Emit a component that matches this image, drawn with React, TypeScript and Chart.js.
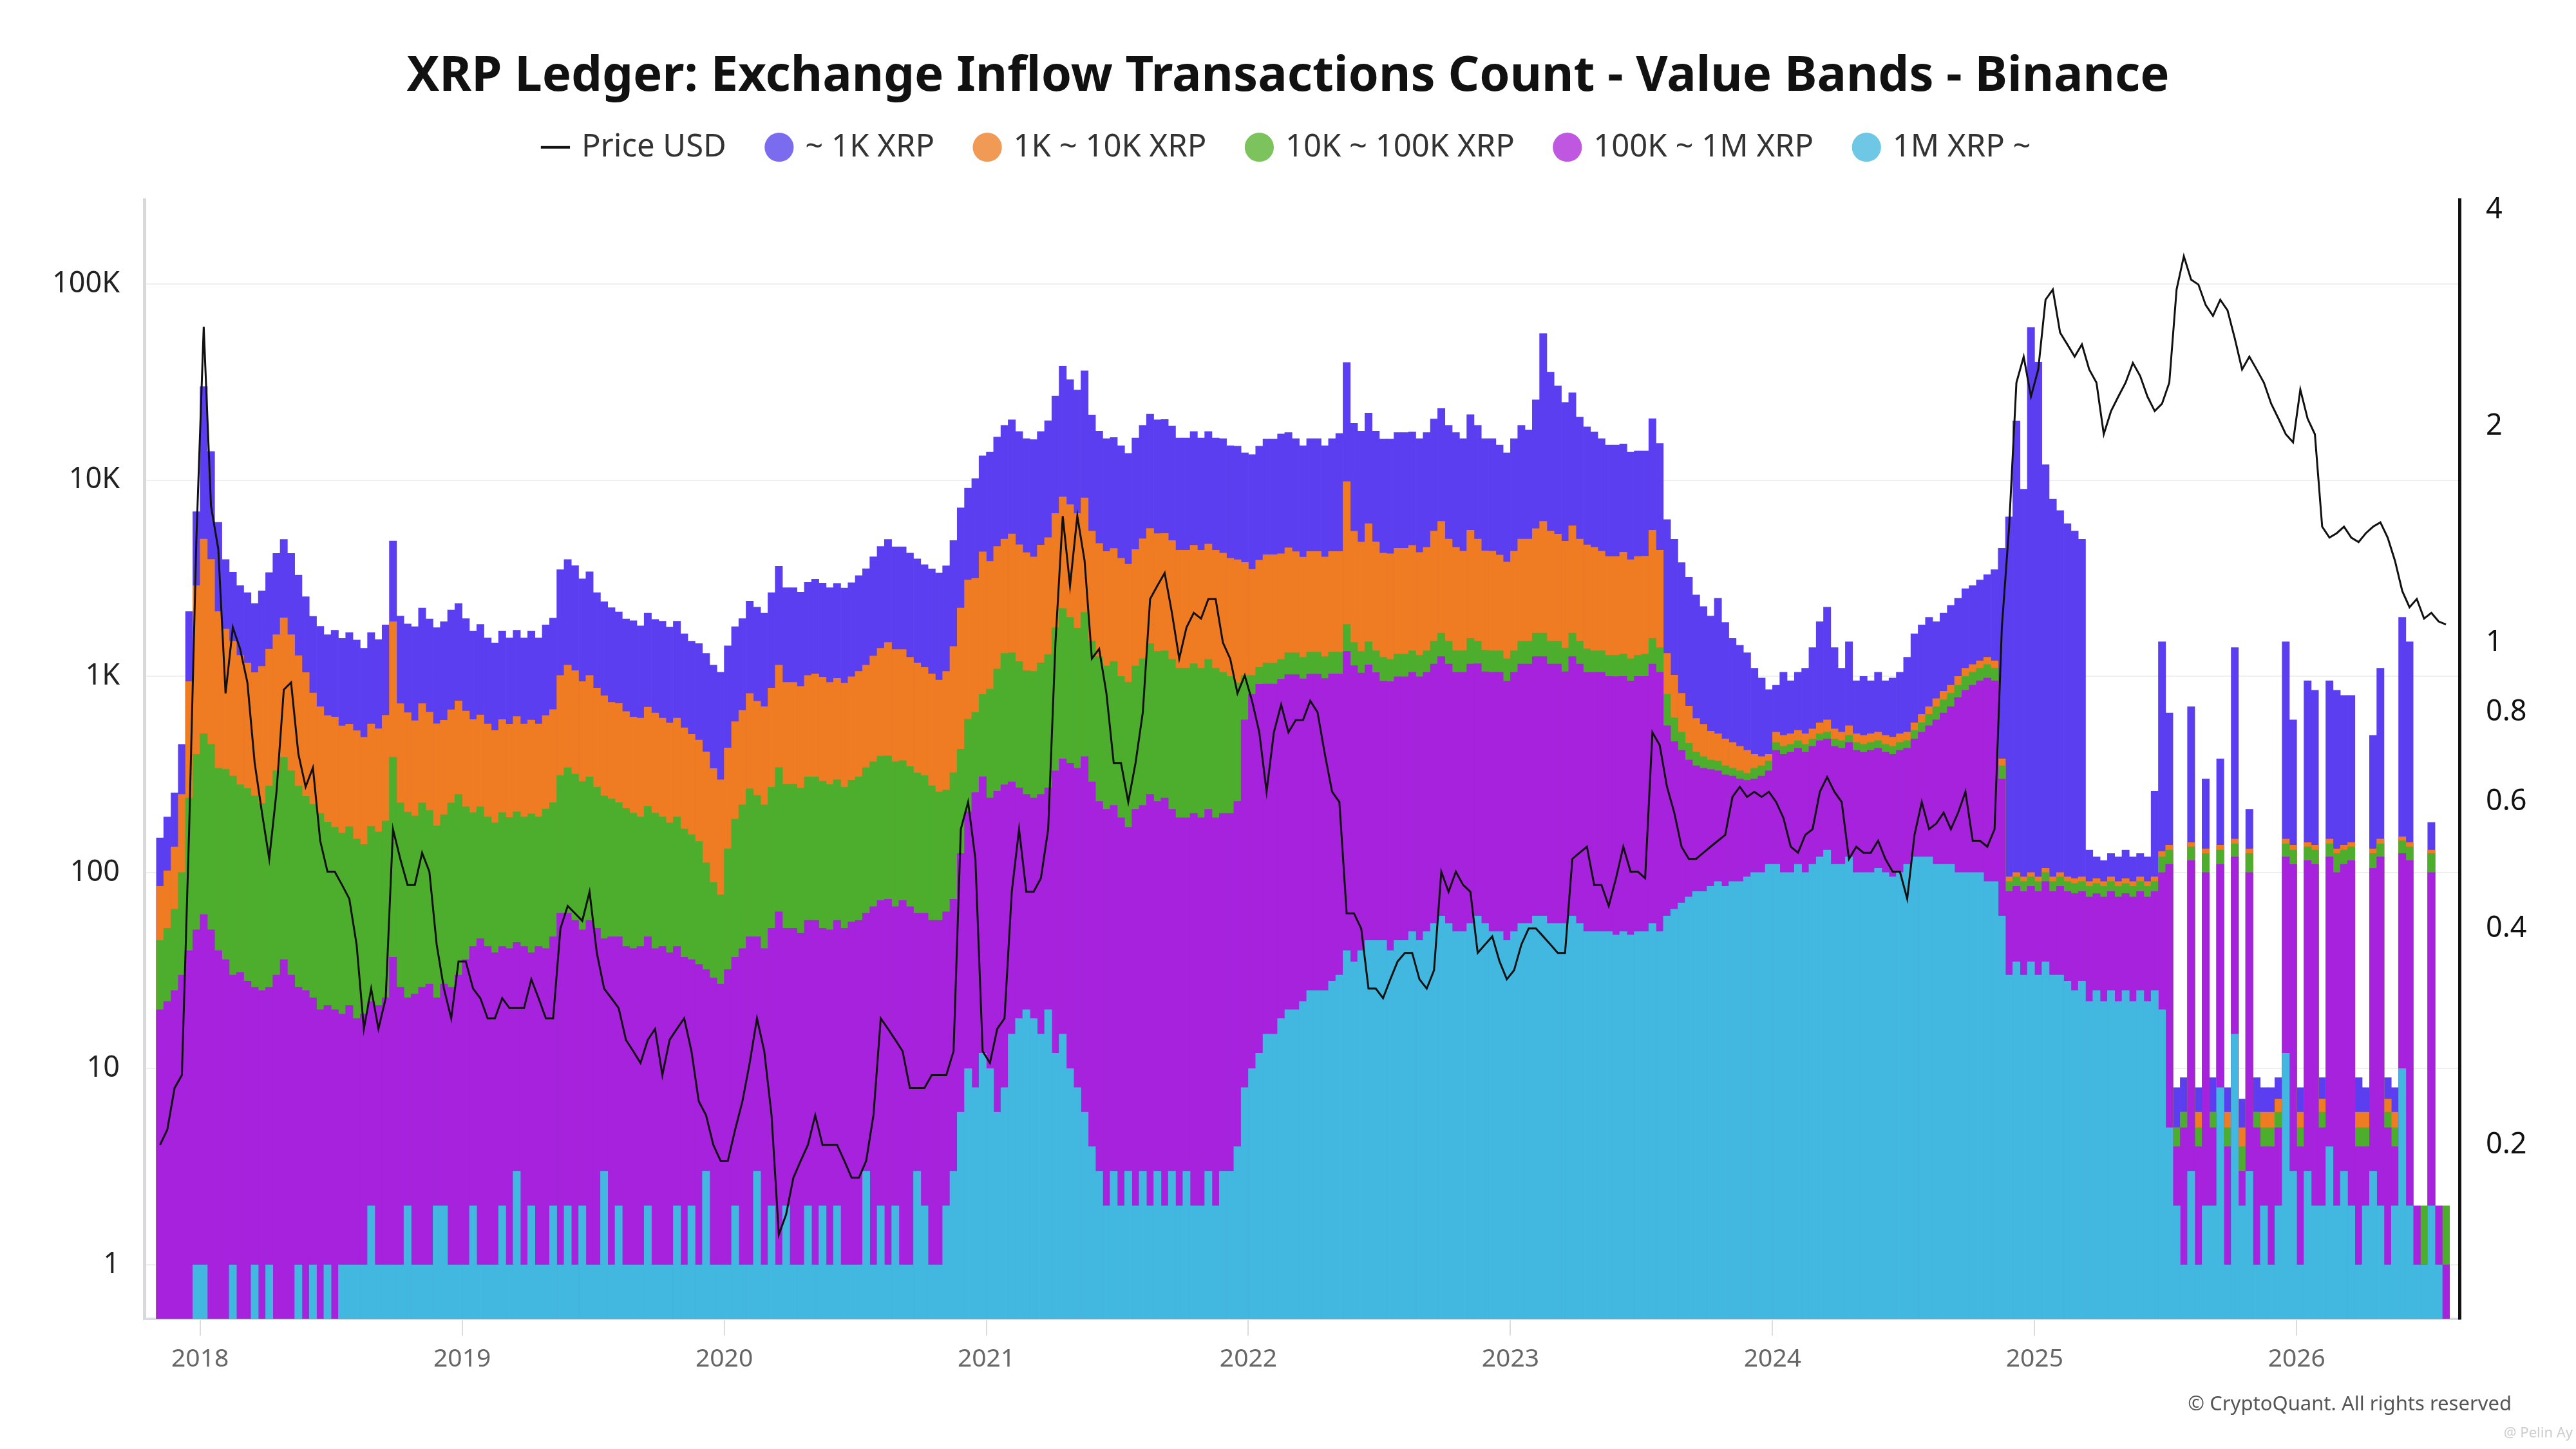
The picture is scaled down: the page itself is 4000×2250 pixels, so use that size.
import React, { useEffect, useRef } from 'react';
import { Chart, registerables } from 'chart.js';

Chart.register(...registerables);
Chart.defaults.font.family = 'Noto Sans';

const TITLE = 'XRP Ledger: Exchange Inflow Transactions Count - Value Bands - Binance';
const COPYRIGHT = '© CryptoQuant. All rights reserved';
const AUTHOR_MARK = '@ Pelin Ay';

// Sample calendar: three samples per month (1st, 11th, 21st), Nov 2017 - Jul 2026
const START_YEAR = 2017;
const START_MONTH = 11;
const MONTH_COUNT = 105;
const SAMPLE_DAYS = [1, 11, 21];

const SAMPLE_DATES: string[] = [];
for (let m = 0; m < MONTH_COUNT; m++) {
  const y = START_YEAR + Math.floor((START_MONTH - 1 + m) / 12);
  const mo = ((START_MONTH - 1 + m) % 12) + 1;
  for (const d of SAMPLE_DAYS) {
    SAMPLE_DATES.push(`${y}-${String(mo).padStart(2, '0')}-${String(d).padStart(2, '0')}`);
  }
}

// Transaction counts per value band (each band drawn from the axis floor, overlapping)
const BAND_1M_PLUS = [
  0,0,0, 0,0,1,
  1,0,0, 0,1,0, 0,1,0, 1,0,0, 0,1,0, 1,0,1, 0,1,1, 1,1,2, 1,1,1, 1,2,1, 1,1,2, 2,1,1,
  1,2,1, 1,1,2, 1,3,1, 2,1,1, 2,1,2, 1,2,1, 1,3,1, 2,1,1, 1,2,1, 1,1,2, 1,2,1, 3,1,1,
  1,2,1, 1,3,1, 2,1,2, 1,1,2, 1,2,1, 2,1,1, 1,3,1, 2,1,2, 1,1,3, 2,1,1, 2,3,6, 10,8,12,
  10,6,8, 15,18,20, 18,15,20, 12,15,10, 8,6,4, 3,2,3, 2,3,2, 3,2,3, 2,3,2, 3,2,2, 3,2,3, 3,4,8,
  10,12,15, 15,18,20, 20,22,25, 25,25,28, 30,40,35, 40,45,45, 45,40,45, 45,50,45, 50,55,60, 55,50,50, 55,60,55, 50,50,45,
  50,55,55, 60,60,55, 55,55,60, 55,50,50, 50,50,48, 50,48,50, 50,55,50, 60,65,70, 75,80,80, 85,90,85, 90,90,95, 100,100,110,
  110,100,100, 110,100,110, 120,130,110, 110,120,100, 100,100,105, 100,95,100, 110,120,120, 120,110,110, 110,100,100, 100,100,90, 90,60,30, 35,30,35,
  30,35,30, 30,28,25, 28,22,25, 22,25,22, 25,22,25, 22,25,20, 5,2,1, 3,1,2, 2,8,1, 15,2,3, 1,2,1, 2,12,3,
  1,3,2, 2,4,2, 3,2,1, 2,3,2, 1,2,10, 2,1,1, 2,1,0,
];

const BAND_100K_1M = [
  20,22,25, 30,40,51,
  61,51,40, 36,30,31, 28,26,25, 26,30,36, 30,26,25, 23,20,21, 20,19,21, 18,19,22, 21,23,37, 26,23,24, 26,27,23, 27,26,30,
  36,42,46, 42,39,42, 41,44,42, 39,42,41, 47,62,62, 57,51,57, 52,46,47, 47,42,41, 42,47,41, 42,39,42, 37,36,34, 32,29,27,
  32,37,41, 47,47,41, 52,63,52, 52,49,57, 57,52,51, 57,52,56, 57,62,67, 72,73,67, 72,67,62, 62,57,57, 63,73,125, 204,256,308,
  240,260,280, 290,270,250, 240,250,270, 330,380,360, 340,390,290, 230,210,220, 190,170,210, 220,250,230, 240,210,190, 190,200,190, 210,190,200, 200,230,600,
  810,912,915, 915,968,1020, 1020,972,1025, 1025,975,1030, 1030,1340,1135, 1040,1145,1045, 945,940,995, 995,1050,995, 1050,1155,1260, 1155,1050,1050, 1155,1160,1055, 1050,1050,945,
  1050,1155,1155, 1260,1260,1155, 1155,1055,1260, 1155,1050,1050, 1050,1000,998, 1000,948,1000, 1000,1155,1050, 560,465,420, 375,350,340, 335,330,315, 310,300,295, 300,310,330,
  420,400,410, 430,410,440, 470,480,440, 430,460,420, 410,420,430, 410,400,420, 430,480,520, 560,600,650, 700,780,850, 900,950,980, 950,300,80, 85,80,85,
  80,90,80, 85,80,78, 80,75,78, 75,80,75, 78,75,80, 75,80,100, 110,4,5, 115,4,100, 5,110,4, 120,3,100, 5,4,4, 5,120,110,
  4,115,110, 5,120,100, 110,115,4, 4,105,120, 5,4,125, 115,2,1, 100,2,1,
];

const BAND_10K_100K = [
  45,52,65, 100,240,400,
  510,450,340, 336,310,280, 268,246,225, 276,330,386, 330,276,245, 223,200,181, 170,159,171, 148,139,172, 161,183,387, 226,203,194, 226,207,173, 197,226,250,
  216,202,216, 192,179,202, 191,204,192, 199,192,211, 227,312,342, 317,291,307, 272,246,237, 227,212,201, 192,217,201, 192,179,192, 167,156,144, 112,89,77,
  132,187,221, 267,247,221, 272,343,282, 282,269,307, 307,292,281, 297,272,296, 307,342,367, 392,393,367, 372,347,322, 312,277,257, 263,323,425, 604,656,808,
  860,1090,1310, 1320,1190,1070, 1060,1170,1290, 1770,2220,2000, 1760,2120,1510, 1260,1130,1190, 1000,934,1130, 1230,1470,1340, 1350,1220,1100, 1100,1160,1100, 1220,1100,1050, 1000,925,1010,
  1010,1110,1170, 1170,1220,1320, 1320,1250,1330, 1330,1260,1330, 1330,1840,1490, 1340,1500,1350, 1250,1220,1300, 1300,1350,1280, 1350,1510,1660, 1510,1350,1350, 1560,1510,1360, 1350,1350,1230,
  1350,1510,1510, 1660,1660,1510, 1510,1390,1660, 1510,1380,1350, 1350,1280,1280, 1300,1230,1280, 1300,1560,1400, 810,615,520, 455,410,390, 375,370,350, 340,330,320, 340,350,370,
  460,440,450, 470,450,480, 510,520,480, 470,500,460, 450,460,470, 450,440,460, 470,530,580, 640,700,760, 820,900,1000, 1050,1100,1150, 1100,350,90, 95,90,95,
  90,100,90, 95,90,88, 90,85,88, 85,90,85, 88,85,90, 85,90,120, 130,5,6, 135,5,125, 6,130,5, 140,4,125, 6,5,5, 6,140,130,
  5,135,130, 6,140,125, 130,135,5, 5,125,140, 6,5,145, 135,2,2, 125,2,2,
];

const BAND_1K_10K = [
  85,102,135, 250,940,2900,
  5010,3950,2140, 1740,1510,1280, 1170,1046,1125, 1376,1630,1986, 1630,1276,1045, 823,700,631, 620,559,571, 528,489,572, 541,633,1900, 726,653,594, 726,657,573, 597,676,750,
  666,602,636, 572,529,602, 571,624,572, 599,572,631, 677,1010,1140, 1070,941,1010, 872,796,737, 727,662,621, 612,697,651, 612,579,612, 547,506,474, 412,339,297,
  432,587,671, 817,747,701, 872,1140,932, 932,889,1010, 1030,992,931, 977,922,996, 1060,1140,1270, 1390,1490,1370, 1370,1250,1170, 1110,1030,957, 1060,1420,2230, 3100,3160,4310,
  3860,4590,5010, 5320,4690,4270, 4060,4670,5090, 6770,8220,7500, 6760,8120,5510, 4760,4330,4490, 4000,3730,4430, 5030,5670,5340, 5350,4920,4400, 4400,4660,4400, 4720,4400,4250, 4000,3930,3810,
  3510,3910,4170, 4170,4220,4520, 4320,4050,4330, 4330,4060,4330, 4330,9840,5490, 4840,6000,4850, 4250,4220,4500, 4500,4650,4280, 4550,5510,6160, 5010,4550,4350, 5560,5010,4360, 4350,4150,3830,
  4350,5010,5010, 5660,6160,5510, 5310,4890,5860, 5010,4680,4550, 4350,4080,4080, 4300,3930,4080, 4100,5560,4400, 1310,1015,820, 705,610,570, 525,510,480, 460,440,420, 400,390,400,
  520,500,510, 530,510,540, 580,600,540, 520,560,510, 500,510,520, 500,490,510, 520,580,640, 700,770,840, 900,1000,1100, 1150,1200,1250, 1200,380,95, 100,95,100,
  95,105,95, 100,95,93, 95,90,93, 90,95,90, 93,90,95, 90,95,128, 138,5,6, 142,6,132, 6,138,6, 148,5,132, 6,6,6, 7,148,138,
  6,142,138, 7,148,132, 138,142,6, 6,132,148, 7,6,152, 142,1,2, 130,1,2,
];

const BAND_UNDER_1K = [
  150,192,255, 450,2140,6900,
  30000,14000,6100, 3940,3400,2900, 2670,2350,2725, 3380,4230,4990, 4230,3280,2545, 2020,1800,1630, 1720,1560,1670, 1530,1390,1670, 1540,1830,4900, 2030,1850,1790, 2230,1960,1770, 1900,2180,2350,
  1970,1700,1840, 1570,1480,1700, 1570,1720,1570, 1700,1570,1830, 1980,3500,3940, 3670,3140,3410, 2670,2400,2240, 2130,1960,1920, 1810,2100,1950, 1910,1780,1910, 1650,1510,1470, 1310,1140,1050,
  1430,1790,1970, 2420,2250,2100, 2670,3640,2830, 2830,2690,3010, 3130,2990,2830, 2980,2820,3000, 3260,3540,4070, 4590,4990,4570, 4570,4250,3970, 3710,3530,3360, 3660,4920,7230, 9100,10200,13300,
  13900,16600,19000, 20300,17700,16300, 16100,17700,20100, 26800,38200,32500, 28800,36100,21500, 17800,16300,16500, 15000,13700,16400, 19000,21700,20300, 20400,18900,16400, 16400,17700,16400, 17700,16400,16300, 15000,14900,13800,
  13500,14900,16200, 16200,17200,17500, 16300,15000,16300, 16300,15000,16300, 17300,39800,19500, 17800,22000,17800, 16200,16200,17500, 17500,17600,16300, 17500,20500,23200, 19000,17500,16300, 21600,19000,16300, 16300,15100,13800,
  16300,19000,18000, 25700,56000,35500, 30300,24900,27900, 21000,18700,17600, 16300,15100,15100, 15300,13900,14100, 14100,20600,15400, 6300,5000,3800, 3200,2600,2270, 2030,2500,1880, 1560,1440,1320, 1100,980,855,
  900,1050,950, 1050,1100,1400, 1900,2250,1400, 1100,1500,950, 1000,950,1050, 950,980,1050, 1250,1650,1830, 2000,1900,2100, 2300,2500,2800, 2900,3100,3300, 3500,4500,6500, 20000,9000,60000,
  40000,12000,8000, 7000,6000,5500, 5000,130,120, 115,125,120, 130,120,125, 120,260,1500, 650,8,9, 700,8,300, 9,380,8, 1400,7,210, 9,8,8, 9,1500,600,
  8,950,850, 9,950,850, 800,800,9, 8,500,1100, 9,8,2000, 1500,2,0, 180,2,1,
];

const PRICE_USD = [
  0.20,0.21,0.24, 0.25,0.55,1.40,
  2.75,1.55,1.35, 0.85,1.05,0.98, 0.88,0.68,0.58, 0.50,0.62,0.86, 0.88,0.70,0.63, 0.67,0.53,0.48, 0.48,0.46,0.44, 0.38,0.29,0.33, 0.29,0.32,0.55, 0.50,0.46,0.46, 0.51,0.48,0.38, 0.33,0.30,0.36,
  0.36,0.33,0.32, 0.30,0.30,0.32, 0.31,0.31,0.31, 0.34,0.32,0.30, 0.30,0.40,0.43, 0.42,0.41,0.45, 0.37,0.33,0.32, 0.31,0.28,0.27, 0.26,0.28,0.29, 0.25,0.28,0.29, 0.30,0.27,0.23, 0.22,0.20,0.19,
  0.19,0.21,0.23, 0.26,0.30,0.27, 0.22,0.15,0.16, 0.18,0.19,0.20, 0.22,0.20,0.20, 0.20,0.19,0.18, 0.18,0.19,0.22, 0.30,0.29,0.28, 0.27,0.24,0.24, 0.24,0.25,0.25, 0.25,0.27,0.55, 0.60,0.50,0.27,
  0.26,0.29,0.30, 0.45,0.55,0.45, 0.45,0.47,0.55, 1.00,1.50,1.20, 1.50,1.30,0.95, 0.98,0.85,0.68, 0.68,0.60,0.68, 0.80,1.15,1.20, 1.25,1.10,0.95, 1.05,1.10,1.08, 1.15,1.15,1.00, 0.95,0.85,0.90,
  0.83,0.75,0.62, 0.75,0.82,0.75, 0.78,0.78,0.83, 0.80,0.70,0.62, 0.60,0.42,0.42, 0.40,0.33,0.33, 0.32,0.34,0.36, 0.37,0.37,0.34, 0.33,0.35,0.48, 0.45,0.48,0.46, 0.45,0.37,0.38, 0.39,0.36,0.34,
  0.35,0.38,0.40, 0.40,0.39,0.38, 0.37,0.37,0.50, 0.51,0.52,0.46, 0.46,0.43,0.47, 0.52,0.48,0.48, 0.47,0.75,0.72, 0.63,0.58,0.52, 0.50,0.50,0.51, 0.52,0.53,0.54, 0.61,0.63,0.61, 0.62,0.61,0.62,
  0.60,0.57,0.52, 0.51,0.54,0.55, 0.62,0.65,0.62, 0.60,0.50,0.52, 0.51,0.51,0.53, 0.50,0.48,0.48, 0.44,0.54,0.60, 0.55,0.56,0.58, 0.55,0.58,0.62, 0.53,0.53,0.52, 0.55,1.05,1.45, 2.30,2.50,2.20,
  2.40,3.00,3.10, 2.70,2.60,2.50, 2.60,2.40,2.30, 1.95,2.10,2.20, 2.30,2.45,2.35, 2.20,2.10,2.15, 2.30,3.10,3.45, 3.20,3.15,2.95, 2.85,3.00,2.90, 2.65,2.40,2.50, 2.40,2.30,2.15, 2.05,1.95,1.90,
  2.25,2.05,1.95, 1.45,1.40,1.42, 1.45,1.40,1.38, 1.42,1.45,1.47, 1.40,1.30,1.18, 1.12,1.15,1.08, 1.10,1.07,1.06,
];

const YEAR_TICKS = [2018, 2019, 2020, 2021, 2022, 2023, 2024, 2025, 2026];
const LEFT_TICKS = [1, 10, 100, 1000, 10000, 100000];
const LEFT_TICK_LABELS = ['1', '10', '100', '1K', '10K', '100K'];
const RIGHT_TICKS = [0.2, 0.4, 0.6, 0.8, 1, 2, 4];
const RIGHT_TICK_LABELS = ['0.2', '0.4', '0.6', '0.8', '1', '2', '4'];

const BANDS = [
  { label: '1M XRP ~', data: BAND_1M_PLUS, color: '#42b7df', legend: '#6fc7e6' },
  { label: '100K ~ 1M XRP', data: BAND_100K_1M, color: '#a622dc', legend: '#bf57e0' },
  { label: '10K ~ 100K XRP', data: BAND_10K_100K, color: '#4dae2e', legend: '#7cc35e' },
  { label: '1K ~ 10K XRP', data: BAND_1K_10K, color: '#ef7b22', legend: '#f19a55' },
  { label: '~ 1K XRP', data: BAND_UNDER_1K, color: '#5b3ef0', legend: '#7b6cef' },
];

function dateToYear(s: string): number {
  const [y, m, d] = s.split('-').map(Number);
  const slot = SAMPLE_DAYS.indexOf(d);
  return y + (m - 1) / 12 + (slot + 0.5) / 36;
}

const watermarkPlugin = {
  id: 'watermark',
  afterDraw(chart: any) {
    const ctx = chart.ctx;
    ctx.save();
    ctx.textAlign = 'right';
    ctx.textBaseline = 'middle';
    ctx.fillStyle = '#555555';
    ctx.font = '31px "Noto Sans"';
    ctx.fillText(COPYRIGHT, 3900, 2181);
    ctx.fillStyle = '#cccccc';
    ctx.font = '22px "Noto Sans"';
    ctx.fillText(AUTHOR_MARK, 3995, 2226);
    ctx.restore();
  },
};

export default function App() {
  const ref = useRef<HTMLCanvasElement | null>(null);

  useEffect(() => {
    document.body.style.margin = '0';
    const xs = SAMPLE_DATES.map(dateToYear);

    const legendItems = [
      { text: 'Price USD', pointStyle: 'line', fillStyle: '#111111', strokeStyle: '#111111', lineWidth: 4, fontColor: '#333333', hidden: false, datasetIndex: 0 },
      ...[...BANDS].reverse().map((b, i) => ({
        text: b.label,
        pointStyle: 'circle',
        fillStyle: b.legend,
        strokeStyle: b.legend,
        lineWidth: 0,
        fontColor: '#333333',
        hidden: false,
        datasetIndex: BANDS.length - i,
      })),
    ];

    const datasets: any[] = [
      {
        type: 'line',
        label: 'Price USD',
        data: xs.map((x, i) => ({ x, y: PRICE_USD[i] })),
        xAxisID: 'x',
        yAxisID: 'y1',
        borderColor: '#111111',
        borderWidth: 3,
        pointRadius: 0,
        tension: 0,
        order: 0,
      },
      ...BANDS.map((b, i) => ({
        type: 'bar',
        label: b.label,
        data: xs.map((x, j) => ({ x, y: b.data[j] })),
        xAxisID: 'x',
        yAxisID: 'y',
        backgroundColor: b.color,
        borderWidth: 0,
        grouped: false,
        barPercentage: 1,
        categoryPercentage: 1,
        order: i + 1,
      })),
    ];

    const chart = new Chart(ref.current as HTMLCanvasElement, {
      type: 'bar',
      data: { datasets },
      plugins: [watermarkPlugin],
      options: {
        responsive: false,
        animation: false,
        events: [],
        layout: { padding: 0 },
        plugins: {
          title: {
            display: true,
            text: TITLE,
            color: '#111111',
            font: { family: 'Noto Sans', size: 76, weight: 'bold' },
            padding: { top: 74, bottom: -27 },
          },
          legend: {
            display: true,
            position: 'top',
            align: 'center',
            labels: {
              usePointStyle: true,
              boxWidth: 32,
              boxHeight: 32,
              padding: 66,
              color: '#333333',
              font: { family: 'Noto Sans', size: 49 },
              generateLabels: () => legendItems as any,
            },
          },
          subtitle: {
            display: true,
            text: '',
            weight: 500,
            font: { size: 10, lineHeight: 1 },
            padding: { top: 37.4, bottom: 0 },
          } as any,
          tooltip: { enabled: false },
        },
        scales: {
          x: {
            type: 'linear',
            min: 2017.787,
            max: 2026.621,
            offset: false,
            afterBuildTicks: (s: any) => { s.ticks = YEAR_TICKS.map((v) => ({ value: v })); },
            afterFit: (s: any) => { s.height = 202; },
            grid: { display: true, drawOnChartArea: false, drawTicks: true, tickLength: 26, color: '#dcdcdc', lineWidth: 2, offset: false },
            border: { display: true, color: '#d6dbe4', width: 4 },
            ticks: {
              autoSkip: false,
              maxRotation: 0,
              padding: 13,
              color: '#666666',
              font: { size: 39 },
              callback: (v: any) => String(v),
            },
          },
          y: {
            type: 'logarithmic',
            position: 'left',
            min: 0.53,
            max: 268000,
            afterBuildTicks: (s: any) => { s.ticks = LEFT_TICKS.map((v) => ({ value: v })); },
            afterFit: (s: any) => { s.width = 224; },
            grid: { color: '#efefef', lineWidth: 2, drawTicks: false },
            border: { display: true, color: '#d9d9d9', width: 5 },
            ticks: {
              autoSkip: false,
              padding: 38,
              color: '#222222',
              font: { size: 45 },
              callback: (v: any) => LEFT_TICK_LABELS[LEFT_TICKS.indexOf(Number(v))] ?? '',
            },
          },
          y1: {
            type: 'logarithmic',
            position: 'right',
            min: 0.1145,
            max: 4.13,
            afterBuildTicks: (s: any) => { s.ticks = RIGHT_TICKS.map((v) => ({ value: v })); },
            afterFit: (s: any) => { s.width = 181; },
            grid: { drawOnChartArea: false, drawTicks: false },
            border: { display: true, color: '#111111', width: 5 },
            ticks: {
              autoSkip: false,
              padding: 41,
              color: '#111111',
              font: { size: 45 },
              callback: (v: any) => RIGHT_TICK_LABELS[RIGHT_TICKS.indexOf(Number(v))] ?? '',
            },
          },
        },
      } as any,
    });

    return () => chart.destroy();
  }, []);

  return (
    <div style={{ position: 'absolute', left: 0, top: 0, width: 4000, height: 2250, background: '#ffffff' }}>
      <canvas ref={ref} width={4000} height={2250} style={{ display: 'block', width: 4000, height: 2250 }} />
    </div>
  );
}
